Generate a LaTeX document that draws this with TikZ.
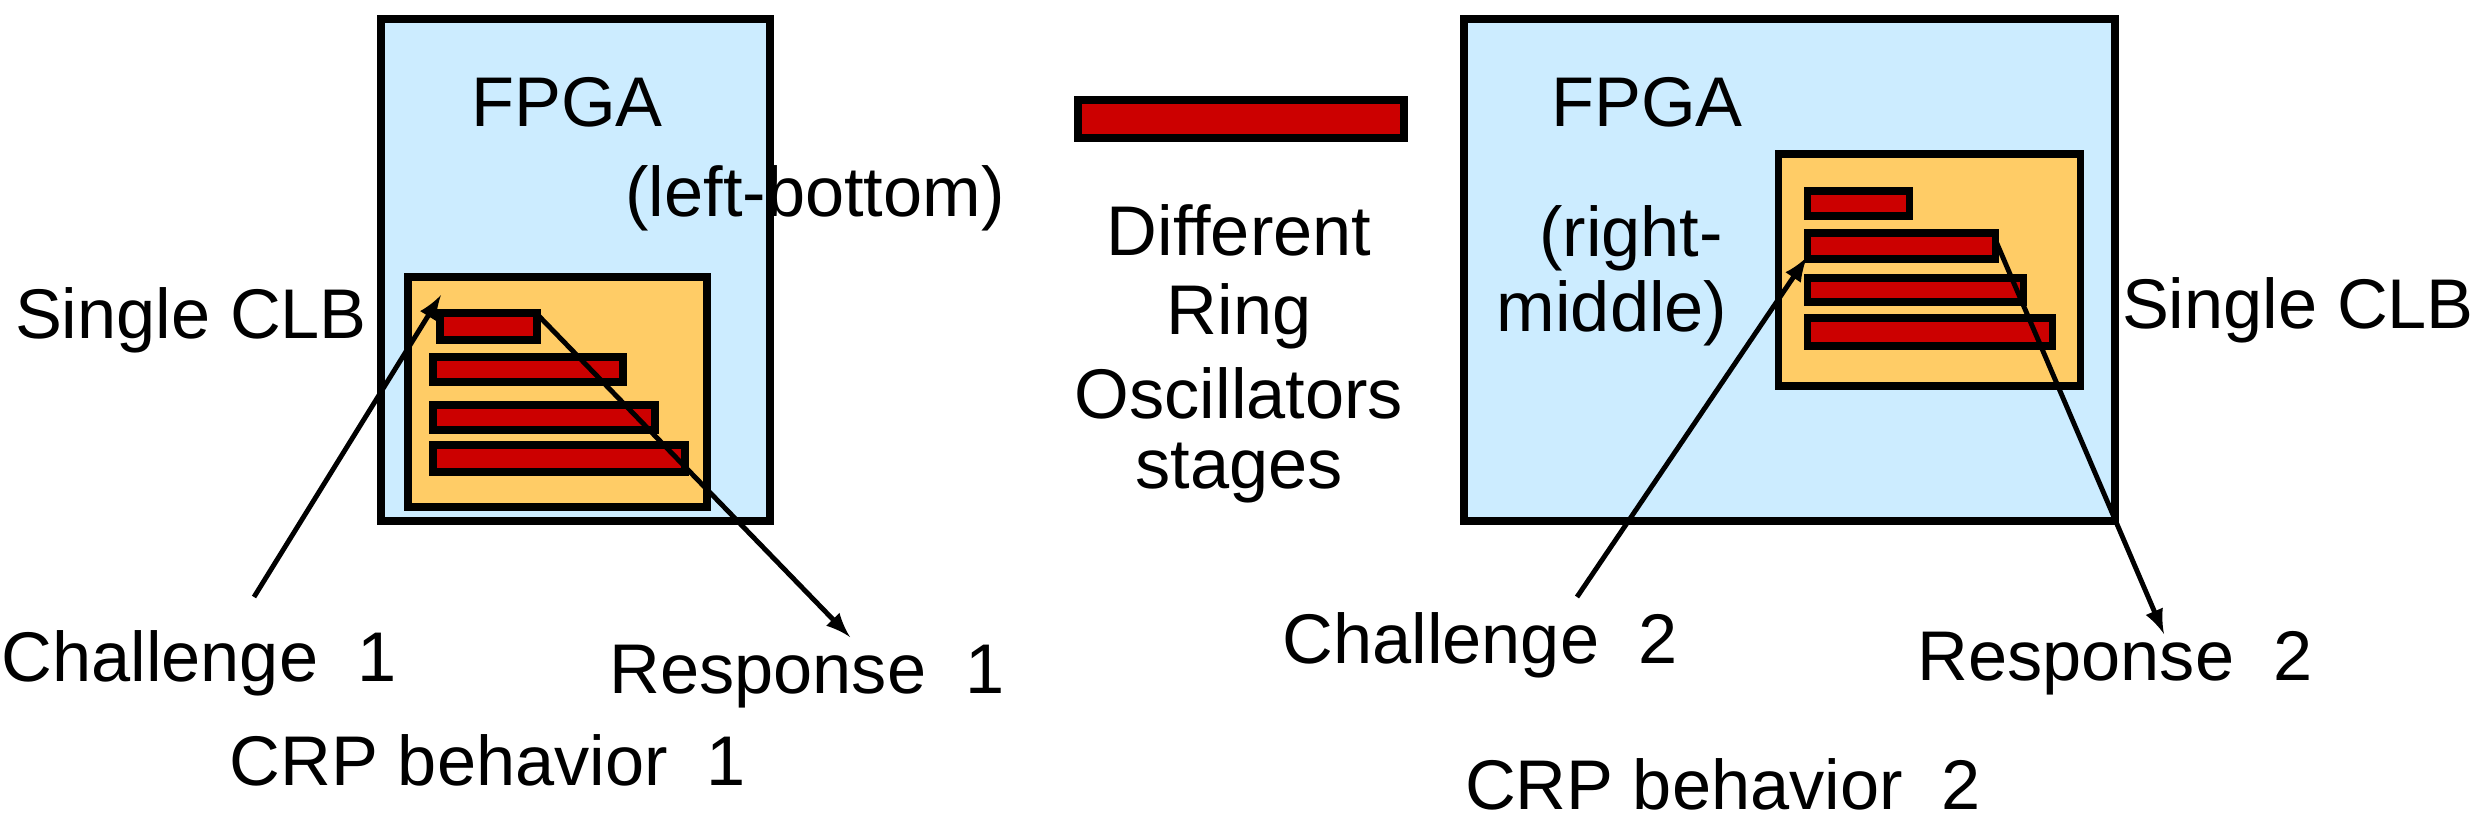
\documentclass[tikz,border=0pt]{standalone}
\usepackage{fontspec}
\setmainfont{Liberation Sans}
\usepackage{tikz}
\usetikzlibrary{positioning}
\usetikzlibrary{calc}
\definecolor{fpgablue}{RGB}{204,236,255}
\definecolor{clborange}{RGB}{255,204,102}
\definecolor{rored}{RGB}{204,0,0}
\tikzset{
  fpga/.style={draw=black,line width=2.4pt,fill=fpgablue},
  clb/.style={draw=black,line width=2pt,fill=clborange},
  ro/.style={draw=black,line width=2pt,fill=rored},
  lbl/.style={font=\fontsize{20}{24}\selectfont,inner sep=0pt},
  crp/.style={line width=1.4pt,-latex}
}
\begin{document}
\begin{tikzpicture}[x=0.01cm,y=-0.01cm]
\useasboundingbox (0,0) rectangle (2490,839);
% left FPGA
\draw[fpga] (381,19) rectangle (770,521);
\draw[clb] (408,277) rectangle (707,507);
\draw[ro] (440,313) rectangle (537,340);
\draw[ro] (433,357) rectangle (623,382);
\draw[ro] (433,405) rectangle (655,430);
\draw[ro] (433,445) rectangle (685,472);
% right FPGA
\draw[fpga] (1464,19) rectangle (2115,521);
\draw[clb] (1778,154) rectangle (2080,386);
\draw[ro] (1807,191) rectangle (1909,216);
\draw[ro] (1807,233) rectangle (1995,259);
\draw[ro] (1807,278) rectangle (2023,302);
\draw[ro] (1807,318) rectangle (2052,346);
% legend bar
\draw[ro,line width=2.4pt] (1078,100) rectangle (1404,138);
% texts
\node[lbl] (fpgaL) at (567,102) {FPGA};
\node[lbl] (posL) at (815,198) {(left-bottom)};
\node[lbl] (diff) at (1239,230) {Different};
\node[lbl] (ring) at (1239,316) {Ring};
\node[lbl] (osc) at (1239,393) {Oscillators};
\node[lbl] (stg) at (1239,473) {stages};
\node[lbl] (fpgaR) at (1647,102) {FPGA};
\node[lbl] (posR1) at (1631,238) {(right-};
\node[lbl] (posR2) at (1612,313) {middle)};
\node[lbl] (clbL) at (191,320) {Single CLB};
\node[lbl] (clbR) at (2298,310) {Single CLB};
\node[lbl] (chal1) at (199,663) {Challenge\ \ 1};
\node[lbl] (resp1) at (807,677) {Response\ \ 1};
\node[lbl] (crp1) at (488,760) {CRP behavior\ \ 1};
\node[lbl] (chal2) at (1480,645) {Challenge\ \ 2};
\node[lbl] (resp2) at (2115,663) {Response\ \ 2};
\node[lbl] (crp2) at (1723,784) {CRP behavior\ \ 2};
% CRP arrows
\coordinate (c1a) at (254,597);
\coordinate (c1b) at (441,295);
\coordinate (r1a) at (535,312);
\coordinate (r1b) at (850,637);
\coordinate (c2a) at (1577,597);
\coordinate (c2b) at (1807,257);
\coordinate (r2a) at (1995,239);
\coordinate (r2b) at (2164,634);
\draw[crp] (c1a) -- (c1b);
\draw[crp] (r1a) -- (r1b);
\draw[crp] (c2a) -- (c2b);
\draw[crp] (r2a) -- (r2b);
\end{tikzpicture}
\end{document}
